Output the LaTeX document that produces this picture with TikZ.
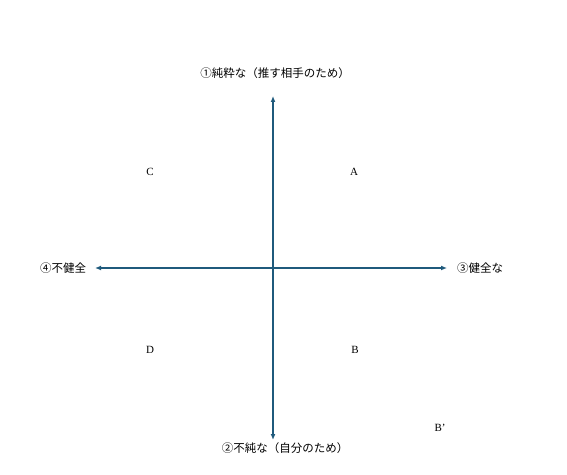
\documentclass[tikz,border=0pt]{standalone}
\usepackage{fontspec}
\setmainfont{Liberation Serif}
\newfontfamily\jpfont{Noto Sans CJK JP}
\usetikzlibrary{arrows.meta}
\definecolor{axisblue}{HTML}{1F5A7C}

\begin{document}
\begin{tikzpicture}[x=1pt,y=1pt,
    axis/.style={draw=axisblue,line width=1.6pt,{Latex[length=6pt,width=5pt]}-{Latex[length=6pt,width=5pt]}},
    jplabel/.style={font=\jpfont\fontsize{11.5}{13}\selectfont,inner sep=1pt},
    quad/.style={font=\fontsize{11}{13}\selectfont,inner sep=1pt}]
  \useasboundingbox (0,0) rectangle (567,474);
  % axis ends
  \coordinate (top) at (273,378);
  \coordinate (bottom) at (273,34);
  \coordinate (left) at (95,206);
  \coordinate (right) at (447,206);
  \draw[axis] (bottom) -- (top);
  \draw[axis] (left) -- (right);
  % axis labels
  \node[jplabel] (pure) at (275,401) {①純粋な（推す相手のため）};
  \node[jplabel] (impure) at (285,26) {②不純な（自分のため）};
  \node[jplabel] (healthy) at (480,206) {③健全な};
  \node[jplabel] (unhealthy) at (63,206) {④不健全};
  % quadrants
  \node[quad] (C) at (150,302) {C};
  \node[quad] (A) at (354,302) {A};
  \node[quad] (D) at (150,124) {D};
  \node[quad] (B) at (355,124) {B};
  \node[quad] (Bp) at (440,46) {B'};
\end{tikzpicture}
\end{document}
